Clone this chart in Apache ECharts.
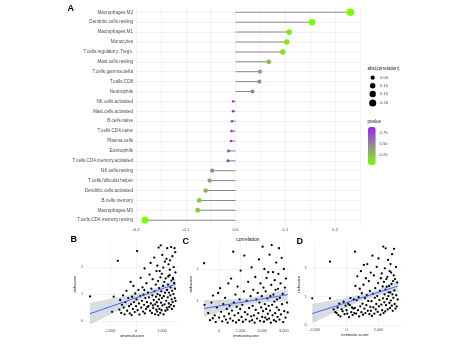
<!DOCTYPE html>
<html>
<head>
<meta charset="utf-8">
<script src="https://cdn.jsdelivr.net/npm/echarts@6/dist/echarts.min.js"></script>
<style>
html, body { margin: 0; padding: 0; background: #ffffff; }
#chart { width: 474px; height: 346px; }
</style>
</head>
<body>
<div id="chart"></div>
<script>
// ---- Panel A: correlation of immune cell fractions with the score ----
const cellTypes = [
  'Macrophages.M2', 'Dendritic.cells.resting', 'Macrophages.M1', 'Monocytes',
  'T.cells.regulatory..Tregs.', 'Mast.cells.resting', 'T.cells.gamma.delta', 'T.cells.CD8',
  'Neutrophils', 'NK.cells.activated', 'Mast.cells.activated', 'B.cells.naive',
  'T.cells.CD4.naive', 'Plasma.cells', 'Eosinophils', 'T.cells.CD4.memory.activated',
  'NK.cells.resting', 'T.cells.follicular.helper', 'Dendritic.cells.activated', 'B.cells.memory',
  'Macrophages.M0', 'T.cells.CD4.memory.resting'
];
const correlation = [
  0.231, 0.154, 0.108, 0.103, 0.095, 0.067, 0.049, 0.048,
  0.034, -0.005, -0.005, -0.007, -0.008, -0.009, -0.014, -0.015,
  -0.047, -0.052, -0.060, -0.073, -0.076, -0.182
];
const pvalue = [
  0.0001, 0.007, 0.06, 0.07, 0.10, 0.25, 0.40, 0.41,
  0.56, 0.90, 0.90, 0.88, 0.87, 0.86, 0.80, 0.79,
  0.42, 0.37, 0.30, 0.21, 0.19, 0.001
];
const corrTicks = [-0.2, -0.1, 0.0, 0.1, 0.2];
const sizeBreaks = [0.05, 0.10, 0.15, 0.20];
const pvalueBreaks = [0.25, 0.50, 0.75];

// ---- Panels B-D: riskscore against ESTIMATE scores, [score, riskscore] ----
const stromalPoints = [
  [-1770,0.91],[-920,0.34],[-860,0.90],[-700,2.23],
  [-640,0.42],[-610,0.78],[-570,0.30],[-540,0.60],[-500,0.95],[-470,0.50],[-440,0.25],[-410,0.70],
  [-370,1.12],[-340,0.38],[-300,0.85],[-270,0.55],[-240,0.28],[-210,1.45],
  [-190,0.62],[-170,0.22],[-150,0.90],[-120,0.45],[-100,1.30],[-80,0.70],[-50,0.33],[-30,1.02],[0,0.55],
  [20,0.80],[40,2.59],[60,0.40],[90,1.15],[110,0.65],[130,0.24],[160,0.92],[180,1.60],[200,0.50],
  [230,0.75],[250,1.25],[270,0.35],[290,0.98],
  [310,0.60],[330,1.95],[340,0.28],[360,0.85],[380,0.45],[400,1.40],[420,0.70],[440,0.52],[460,1.05],
  [480,0.55],[500,0.88],[520,1.72],[540,0.38],[560,2.15],[570,0.65],[590,1.20],[610,0.30],[630,0.95],
  [640,1.55],[660,0.48],[680,0.78],[700,2.35],[710,1.10],[730,0.25],[740,0.62],[760,1.35],[770,0.90],
  [780,0.42],[790,1.85],[800,0.70],[320,1.15],[650,0.58],
  [810,0.35],[820,2.05],[830,1.00],[840,0.55],[850,1.48],[860,0.22],[870,2.72],[880,0.80],[890,1.22],
  [900,0.45],[910,1.85],[920,0.95],[930,0.30],[940,1.62],[950,2.80],[960,0.68],[970,1.10],[980,0.40],
  [990,1.75],[1000,0.85],[1010,2.45],[1020,0.58],[1040,1.30],[1050,1.98],[1060,0.25],[1070,0.92],
  [1090,1.45],[1100,0.62],[1110,2.20],[1120,1.05],[1130,0.38],[1140,1.58],[1160,0.75],[1170,2.30],
  [1180,0.50],[1195,1.15],
  [1200,2.70],[1210,0.42],[1220,0.88],[1230,1.35],[1240,1.65],[1250,2.10],[1260,0.65],[1270,1.05],
  [1280,0.52],[1290,1.70],[1300,1.90],[1310,2.25],[1320,0.95],[1330,1.25],[1340,0.60],[1350,2.74],
  [1360,1.50],[1370,0.80],[1380,0.45],[1390,1.12],[1400,2.40],[1410,0.70],[1420,1.60],[1430,1.55],
  [1440,1.00],[1450,2.00],[1460,0.55],[1470,1.40],[1480,2.70],[1490,0.85],[1500,1.20],[1510,2.55],
  [1515,1.80],[1520,0.75]
];
const immunePoints = [
  [-690,2.18],[-670,0.88],[-290,0.46],[-280,1.17],
  [-500,0.62],[-420,0.40],[-350,0.95],[-200,0.55],[-150,0.34],[-100,0.80],[-40,1.25],[0,0.48],[50,1.40],
  [100,0.66],[150,0.36],[200,0.90],[240,0.52],[280,1.10],[320,0.42],[360,0.75],[400,0.32],[430,1.55],
  [460,0.60],[490,0.85],
  [520,0.45],[560,1.70],[600,0.70],[640,0.38],[660,2.54],[690,0.95],[720,0.55],[760,1.20],[790,0.33],
  [820,0.82],[860,1.45],[890,0.62],[920,0.40],[950,1.05],[980,0.75],[1000,1.95],[1040,0.50],[1080,0.88],
  [1110,0.35],[1150,1.30],[1170,2.42],[1200,0.65],[1240,0.42],[1280,1.00],[1320,0.58],[1350,1.60],
  [1390,0.78],[1420,0.36],[1460,1.15],[1490,0.52],
  [1510,2.05],[1530,0.40],[1560,0.85],[1590,1.35],[1620,0.55],[1650,0.32],[1680,1.75],[1700,0.72],
  [1730,1.05],[1760,0.45],[1790,1.25],[1820,0.62],[1850,2.30],[1870,0.95],[1900,0.38],[1920,1.55],
  [1950,0.80],[1980,1.15],[2000,0.50],[2020,2.70],[2040,0.68],[2060,1.42],[2080,0.35],[2100,2.00],
  [2120,0.90],[2140,0.48],[2160,1.30],[2180,0.75],[2200,1.72],[2220,0.42],[2240,1.08],[2260,0.60],
  [2280,1.90],[2300,0.85],
  [2320,0.45],[2340,2.45],[2360,0.70],[2380,1.15],[2400,0.32],[2420,1.50],[2440,2.75],[2460,0.88],
  [2480,0.55],[2500,1.90],[2520,1.20],[2540,0.40],[2560,0.98],[2580,1.65],[2600,0.62],[2620,1.35],
  [2640,0.36],[2650,2.20],[2670,0.80],[2690,1.05],[2710,0.50],[2730,1.38],[2750,1.85],[2770,0.72],
  [2780,2.65],[2800,0.42],[2820,1.10],[2850,1.55],[2870,0.58],[2900,2.35],[2920,0.90],[2950,1.22],
  [2970,0.34],[3000,2.00],[3020,0.68],[3050,1.42],[3080,0.48],[3100,1.70],[3150,0.95],[3180,0.64]
];
const estimatePoints = [
  [-2140,0.94],[-1030,2.24],[-1030,0.94],[530,2.59],[-510,0.35],[-800,0.55],
  [-700,0.45],[-620,0.42],[-560,0.62],[-450,0.75],[-380,0.30],[-300,0.55],[-240,0.48],[-180,0.82],
  [-120,0.38],[-60,0.68],[0,0.52],[50,0.40],[110,0.75],[160,0.28],[200,0.70],[250,0.95],[300,0.45],
  [340,0.62],[380,0.35],[420,0.58],[460,0.90],[490,0.42],
  [520,0.60],[560,1.38],[600,0.40],[640,0.88],[680,1.72],[720,0.52],[760,0.98],[790,0.30],[830,1.28],
  [860,0.66],[900,1.90],[930,0.45],[960,1.12],[1000,0.75],[1030,0.36],[1060,1.42],[1090,2.12],
  [1120,0.58],[1150,0.95],[1180,0.42],[1210,1.65],[1240,0.70],[1270,1.05],[1300,2.15],[1330,0.50],
  [1360,0.85],[1400,1.55],[1430,0.38],[1460,1.20],[1490,0.64],
  [1510,1.85],[1530,0.50],[1560,0.84],[1590,0.32],[1620,2.45],[1650,1.10],[1680,0.62],[1710,1.75],
  [1740,0.40],[1770,0.96],[1800,1.30],[1830,0.55],[1860,0.74],[1890,2.05],[1920,1.02],[1950,0.46],
  [1980,1.48],[2000,2.35],[2030,0.66],[2060,0.88],[2090,1.20],[2120,0.36],[2150,1.65],[2180,0.72],
  [2200,1.82],[2230,0.52],[2260,1.36],[2280,0.94],[2300,2.77],[2320,0.42],[2340,1.52],[2360,0.80],
  [2380,1.08],[2400,2.00],
  [2420,0.48],[2440,1.25],[2450,2.71],[2470,0.70],[2490,1.62],[2510,1.35],[2530,0.92],[2550,1.70],
  [2570,0.55],[2600,2.30],[2620,1.02],[2640,1.15],[2660,1.38],[2680,0.78],[2700,1.90],[2720,0.60],
  [2740,1.15],[2750,2.15],[2770,0.86],[2790,1.85],[2810,1.45],[2830,0.68],[2850,2.50],[2870,1.08],
  [2890,0.50],[2910,1.55],[2930,0.96],[2950,1.75],[2970,2.69],[2990,1.22],[3010,0.74],[3030,1.62],
  [3060,0.58],[3090,2.05],[3110,1.05],[3140,0.66],[3170,1.50],[3200,0.90]
];
const stromalTicks = [-1000, 0, 1000];
const immuneTicks = [0, 1000, 2000, 3000];
const estimateTicks = [-2000, 0, 2000];
const riskTicksB = [0, 1, 2];
const riskTicksC = [1, 2];
const riskTicksD = [0, 1, 2];

// ---- helpers ----
const FONT = '"Liberation Sans", Arial, sans-serif';
const TEXT = '#4d4d4d';
const GRID_LINE = '#ebebeb';

// point diameter for |correlation| (area-like scaling)
function dotSize(absCorr) {
  return 1.5 + 12.5 * Math.sqrt(absCorr);
}

// least-squares line with 95% confidence band
function linearFit(pts, steps) {
  const n = pts.length;
  let sx = 0, sy = 0;
  pts.forEach(p => { sx += p[0]; sy += p[1]; });
  const mx = sx / n, my = sy / n;
  let sxx = 0, sxy = 0;
  pts.forEach(p => { sxx += (p[0] - mx) ** 2; sxy += (p[0] - mx) * (p[1] - my); });
  const b = sxy / sxx, a = my - b * mx;
  let sse = 0;
  pts.forEach(p => { const e = p[1] - (a + b * p[0]); sse += e * e; });
  const s = Math.sqrt(sse / (n - 2));
  const t = 1.97;
  const xs = pts.map(p => p[0]);
  const x0 = Math.min(...xs), x1 = Math.max(...xs);
  const line = [], upper = [], lower = [];
  for (let i = 0; i <= steps; i++) {
    const x = x0 + (x1 - x0) * i / steps;
    const yh = a + b * x;
    const se = s * Math.sqrt(1 / n + (x - mx) ** 2 / sxx);
    line.push([x, yh]);
    upper.push([x, yh + t * se]);
    lower.push([x, yh - t * se]);
  }
  return { line, upper, lower };
}

const panels = [
  { points: stromalPoints, xName: 'stromalscore', xTicks: stromalTicks, yTicks: riskTicksB,
    xMin: -1975, xMax: 1665, yMin: -0.21, yMax: 2.95,
    grid: { left: 84.7, top: 241.4, width: 94.6, height: 85.3 } },
  { points: immunePoints, xName: 'immunescore', xTicks: immuneTicks, yTicks: riskTicksC,
    xMin: -880, xMax: 3370, yMin: 0.18, yMax: 2.87,
    grid: { left: 200, top: 241.2, width: 91.8, height: 86 } },
  { points: estimatePoints, xName: 'estimate score', xTicks: estimateTicks, yTicks: riskTicksD,
    xMin: -2400, xMax: 3450, yMin: -0.03, yMax: 2.9,
    grid: { left: 308.1, top: 242.9, width: 93.6, height: 82.9 } }
];

const grids = [{ left: 136, top: 7.35, width: 223.9, height: 217.8 }];
const xAxes = [{
  type: 'value', gridIndex: 0, min: -0.2, max: 0.25, interval: 0.05,
  name: 'correlation', nameLocation: 'middle', nameGap: 7,
  nameTextStyle: { fontFamily: FONT, fontSize: 5, color: '#222' },
  axisLine: { show: false }, axisTick: { show: false },
  axisLabel: {
    fontFamily: FONT, fontSize: 4.4, color: TEXT, margin: 3,
    formatter: v => {
      const hit = corrTicks.find(t => Math.abs(t - v) < 1e-9);
      return hit === undefined ? '' : hit.toFixed(1);
    }
  },
  splitLine: { show: true, lineStyle: { color: GRID_LINE, width: 0.6 } }
}];
const yAxes = [{
  type: 'category', gridIndex: 0, data: cellTypes, inverse: true,
  axisLine: { show: false }, axisTick: { show: false },
  axisLabel: { interval: 0, fontFamily: FONT, fontSize: 4.6, color: TEXT, margin: 3 },
  splitLine: { show: true, alignWithLabel: true, lineStyle: { color: GRID_LINE, width: 0.6 } }
}];

const series = [
  {
    type: 'bar', xAxisIndex: 0, yAxisIndex: 0, data: correlation, barWidth: 1,
    itemStyle: { color: '#8a8a8a' }, silent: true, clip: false
  },
  {
    type: 'scatter', xAxisIndex: 0, yAxisIndex: 0, clip: false,
    data: cellTypes.map((c, i) => [correlation[i], c, Math.abs(correlation[i]), pvalue[i]]),
    encode: { x: 0, y: 1 },
    symbolSize: v => dotSize(v[2]),
    itemStyle: { opacity: 1 }
  }
];

panels.forEach((p, k) => {
  const gi = k + 1;
  grids.push(p.grid);
  xAxes.push({
    type: 'value', gridIndex: gi, min: p.xMin, max: p.xMax,
    name: p.xName, nameLocation: 'middle', nameGap: 6,
    nameTextStyle: { fontFamily: FONT, fontSize: 4.2, color: '#222' },
    axisLine: { show: false },
    axisTick: { show: false, customValues: p.xTicks },
    axisLabel: { customValues: p.xTicks, fontFamily: FONT, fontSize: 3.8, color: TEXT, margin: 2 },
    splitLine: { show: true, lineStyle: { color: GRID_LINE, width: 0.6 } }
  });
  yAxes.push({
    type: 'value', gridIndex: gi, min: p.yMin, max: p.yMax,
    name: 'riskscore', nameLocation: 'middle', nameGap: 5, nameRotate: 90,
    nameTextStyle: { fontFamily: FONT, fontSize: 4.2, color: '#222' },
    axisLine: { show: false },
    axisTick: { show: false, customValues: p.yTicks },
    axisLabel: { customValues: p.yTicks, fontFamily: FONT, fontSize: 3.8, color: TEXT, margin: 1.5 },
    splitLine: { show: true, lineStyle: { color: GRID_LINE, width: 0.6 } }
  });
  const fit = linearFit(p.points, 40);
  series.push({
    type: 'scatter', xAxisIndex: gi, yAxisIndex: gi, data: p.points,
    symbolSize: 2.3, itemStyle: { color: '#000000', opacity: 1 }, silent: true
  });
  series.push({
    type: 'custom', xAxisIndex: gi, yAxisIndex: gi, silent: true,
    data: [fit.line[0]], encode: { x: 0, y: 1 },
    renderItem: (params, api) => {
      const pts = fit.upper.map(q => api.coord(q))
        .concat(fit.lower.slice().reverse().map(q => api.coord(q)));
      return { type: 'polygon', shape: { points: pts }, style: { fill: 'rgba(160,168,180,0.4)' } };
    }
  });
  series.push({
    type: 'line', xAxisIndex: gi, yAxisIndex: gi, data: fit.line, showSymbol: false,
    lineStyle: { color: '#3366FF', width: 1 }, silent: true
  });
});

grids.forEach(g => { g.containLabel = false; g.outerBoundsMode = 'none'; });

// legend graphics: size key and colour-bar labels
const pMin = 0, pMax = 0.9, barTop = 127, barHeight = 38;
const sizeKeyY = [77.7, 85.7, 94, 103];
const graphic = [
  { type: 'text', left: 67.5, top: 4.5, style: { text: 'A', font: 'bold 9px ' + FONT, fill: '#000' } },
  { type: 'text', left: 70.5, top: 235.5, style: { text: 'B', font: 'bold 9px ' + FONT, fill: '#000' } },
  { type: 'text', left: 182.5, top: 237.5, style: { text: 'C', font: 'bold 9px ' + FONT, fill: '#000' } },
  { type: 'text', left: 296.5, top: 237.5, style: { text: 'D', font: 'bold 9px ' + FONT, fill: '#000' } },
  { type: 'text', x: 367.5, y: 69, style: { text: 'abs(correlation)', font: '4.6px ' + FONT, fill: '#222', textVerticalAlign: 'middle' } },
  { type: 'text', x: 367.5, y: 121.7, style: { text: 'pvalue', font: '4.6px ' + FONT, fill: '#222', textVerticalAlign: 'middle' } }
];
sizeBreaks.forEach((v, i) => {
  graphic.push({ type: 'circle', shape: { cx: 372.7, cy: sizeKeyY[i], r: dotSize(v) / 2 }, style: { fill: '#000' } });
  graphic.push({ type: 'text', x: 380, y: sizeKeyY[i], style: { text: v.toFixed(2), font: '4.2px ' + FONT, fill: TEXT, textVerticalAlign: 'middle' } });
});
pvalueBreaks.forEach(v => {
  const y = barTop + (pMax - v) / (pMax - pMin) * barHeight;
  graphic.push({ type: 'text', x: 379.5, y: y, style: { text: v.toFixed(2), font: '4.2px ' + FONT, fill: TEXT, textVerticalAlign: 'middle' } });
});

const chart = echarts.init(document.getElementById('chart'), null, { renderer: 'canvas' });
chart.setOption({
  animation: false,
  backgroundColor: '#ffffff',
  textStyle: { fontFamily: FONT },
  grid: grids,
  xAxis: xAxes,
  yAxis: yAxes,
  visualMap: [{
    type: 'continuous', seriesIndex: 1, dimension: 3, min: pMin, max: pMax,
    inRange: { color: ['#7CFC00', '#909090', '#A020F0'] },
    orient: 'vertical', left: 368, top: barTop, itemWidth: 7.7, itemHeight: barHeight,
    calculable: false, text: null, padding: 0, hoverLink: false
  }],
  series: series,
  graphic: graphic
});
</script>
</body>
</html>
